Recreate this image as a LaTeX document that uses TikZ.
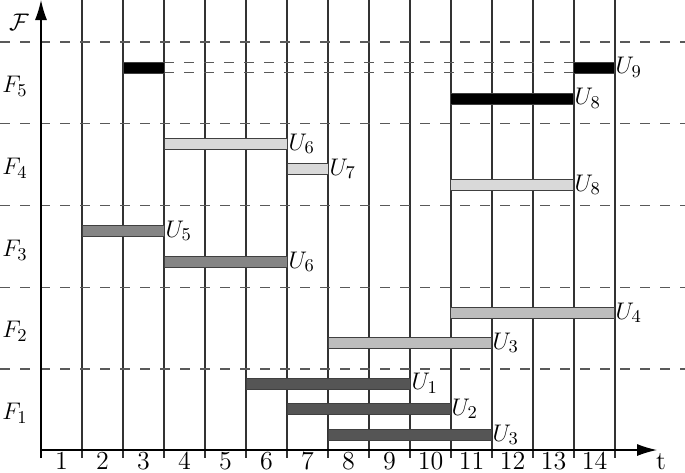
\documentclass[tikz,border=0pt]{standalone}
\usetikzlibrary{arrows.meta}
\definecolor{cfive}{HTML}{000000}
\definecolor{cfour}{HTML}{D9D9D9}
\definecolor{cthree}{HTML}{858585}
\definecolor{ctwo}{HTML}{BDBDBD}
\definecolor{cone}{HTML}{555555}
\begin{document}
\begin{tikzpicture}[x=0.5pt,y=-0.5pt,
  every node/.style={font=\fontsize{13}{15}\selectfont},
  grid/.style={draw=black!80, line width=0.55pt},
  sep/.style={draw=black!65, line width=0.55pt, dash pattern=on 5pt off 5pt},
  taskbar/.style={draw=black!75, line width=0.5pt},
  lab/.style={anchor=base west, inner sep=0.6pt},
  tick/.style={anchor=base, inner sep=0pt},
  axis/.style={draw=black, line width=0.6pt, -{Latex[length=10pt,width=6pt]}}]
\useasboundingbox (0,0) rectangle (685,472);
% vertical grid
\foreach \i in {2,...,15} \draw[grid] (41*\i,0) -- (41*\i,458);
% column numbers
\foreach \i in {1,...,14} \node[tick] (n\i) at (41*\i+20.5,469.5) {\i};
% dashed separators
\foreach \yy in {42,123.75,205.5,287.25,369} \draw[sep] (0,\yy) -- (685,\yy);
\draw[sep] (164,62.5) -- (573,62.5);
\draw[sep] (164,72.5) -- (573,72.5);
% axes
\draw[axis] (41,458) -- (41,0);
\draw[axis] (41,450) -- (657,450);
\node[tick] (tt) at (661,469.5) {t};
\node (ff) at (19,22) {$\mathcal{F}$};
% family labels
\node (f5) at (15,86) {$F_5$};
\node (f4) at (15,168) {$F_4$};
\node (f3) at (15,250) {$F_3$};
\node (f2) at (15,331) {$F_2$};
\node (f1) at (15,413) {$F_1$};
% bars: color, x1, x2, yc, label
\foreach \c/\xa/\xb/\yc/\l [count=\k] in {
  cfive/123/164/67.5/,
  cfive/573/614/67.5/9,
  cfive/450/573/98.5/8,
  cfour/164/287/144/6,
  cfour/287/328/169/7,
  cfour/450/573/185/8,
  cthree/82/164/231/5,
  cthree/164/287/262/6,
  ctwo/450/614/313/4,
  ctwo/328/491/343/3,
  cone/246/410/383.5/1,
  cone/287/450/409/2,
  cone/328/491/435/3}{
  \draw[taskbar, fill=\c] (\xa,\yc-5.5) rectangle (\xb,\yc+5.5);
  \ifx\l\empty\else
    \node[lab] (u\k) at (\xb,\yc+6) {$U_{\l}$};
  \fi
}
\end{tikzpicture}
\end{document}
